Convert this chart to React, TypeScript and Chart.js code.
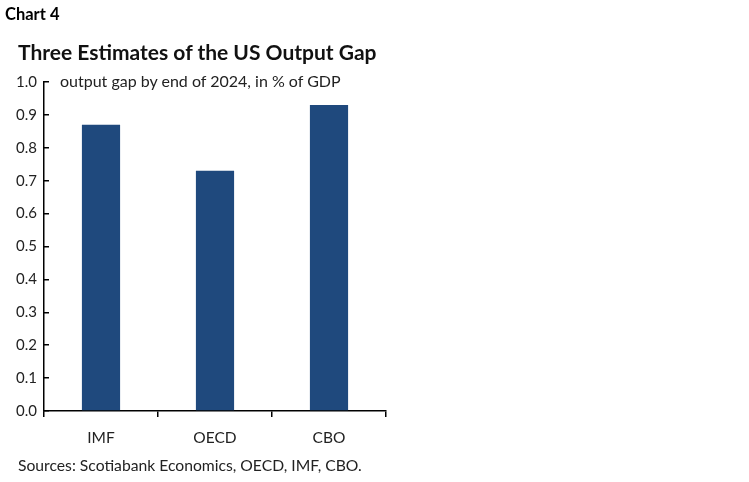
import React, { useEffect, useRef } from "react";
import Chart from "chart.js/auto";

const categories = ["IMF", "OECD", "CBO"];
const outputGap = [0.87, 0.73, 0.93];
const yTicks = [0, 0.1, 0.2, 0.3, 0.4, 0.5, 0.6, 0.7, 0.8, 0.9, 1.0];

const FONT = "Lato, 'Open Sans', sans-serif";
const BAR_COLOR = "#1f497d";

export default function App() {
    const canvasRef = useRef<HTMLCanvasElement | null>(null);
    const chartRef = useRef<Chart | null>(null);

    useEffect(() => {
        document.body.style.margin = "0";
        const canvas = canvasRef.current;
        if (!canvas) return;

        if (chartRef.current) {
            chartRef.current.destroy();
            chartRef.current = null;
        }

        chartRef.current = new Chart(canvas, {
            type: "bar",
            data: {
                labels: categories,
                datasets: [
                    {
                        label: "Output gap",
                        data: outputGap,
                        backgroundColor: BAR_COLOR,
                        borderWidth: 0,
                        categoryPercentage: 1,
                        barPercentage: 0.335,
                    },
                ],
            },
            options: {
                animation: false,
                responsive: false,
                maintainAspectRatio: false,
                layout: { padding: { left: 0, top: 82, right: 363, bottom: 0 } },
                plugins: {
                    legend: { display: false },
                    title: { display: false },
                    tooltip: { enabled: false },
                },
                scales: {
                    x: {
                        grid: {
                            drawOnChartArea: false,
                            offset: true,
                            tickLength: 6,
                            color: "#000",
                            lineWidth: 1.5,
                        },
                        border: { display: true, color: "#000", width: 1.5 },
                        ticks: {
                            color: "#222",
                            padding: 12,
                            font: { family: FONT, size: 15.5 },
                        },
                        afterFit: (scale: any) => {
                            scale.height = 71;
                        },
                    },
                    y: {
                        min: 0,
                        max: 1,
                        afterBuildTicks: (scale: any) => {
                            scale.ticks = yTicks.map((v) => ({ value: v }));
                        },
                        grid: {
                            drawOnChartArea: false,
                            tickLength: -5,
                            color: "#000",
                            lineWidth: 1.5,
                        },
                        border: { display: true, color: "#000", width: 1.5 },
                        ticks: {
                            color: "#222",
                            padding: 12,
                            font: { family: FONT, size: 15 },
                            callback: (v: any) => Number(v).toFixed(1),
                        },
                        afterFit: (scale: any) => {
                            scale.width = 44;
                        },
                    },
                },
            } as any,
        });

        return () => {
            if (chartRef.current) {
                chartRef.current.destroy();
                chartRef.current = null;
            }
        };
    }, []);

    const text: React.CSSProperties = {
        position: "absolute",
        fontFamily: FONT,
        color: "#222",
        whiteSpace: "nowrap",
        lineHeight: 1,
    };

    return (
        <div style={{ position: "relative", width: 749, height: 482, background: "#fff" }}>
            <canvas ref={canvasRef} width={749} height={482} style={{ position: "absolute", left: 0, top: 0 }} />
            <div style={{ ...text, left: 5, top: 6, fontSize: 16.5, fontWeight: 700, color: "#000" }}>Chart 4</div>
            <div style={{ ...text, left: 18, top: 41, fontSize: 21, fontWeight: 700, color: "#111" }}>
                Three Estimates of the US Output Gap
            </div>
            <div style={{ ...text, left: 60, top: 73, fontSize: 16 }}>output gap by end of 2024, in % of GDP</div>
            <div style={{ ...text, left: 18, top: 458, fontSize: 15.7 }}>Sources: Scotiabank Economics, OECD, IMF, CBO.</div>
        </div>
    );
}
